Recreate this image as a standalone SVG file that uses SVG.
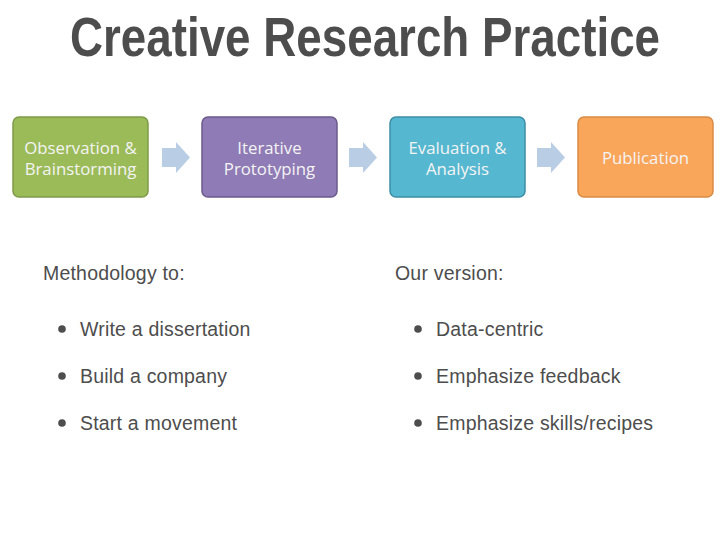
<svg xmlns="http://www.w3.org/2000/svg" width="728" height="546" viewBox="0 0 728 546">
<defs>
<style>
.title{font-family:"Liberation Sans",Arial,sans-serif;font-weight:bold;font-size:55px;fill:#4d4d4d}
.box{stroke-width:1.5}
.lbl{font-family:"Open Sans","Noto Sans",sans-serif;font-size:16.8px;fill:#f4f4f4;text-anchor:middle}
.arrow{fill:#b9cde5}
.body{font-family:"Liberation Sans",Arial,sans-serif;font-size:19.5px;fill:#4d4d4d;letter-spacing:0.2px}
.dot{fill:#4d4d4d}
</style>
</defs>
<rect width="728" height="546" fill="#ffffff"/>
<text class="title" transform="translate(70,56) scale(0.832,1)" x="0" y="0">Creative Research Practice</text>

<g id="connectors">
<path class="arrow" d="M162,148 H176 V142 L190,157.5 L176,173 V167 H162 Z"/>
<path class="arrow" d="M349,148 H363 V142 L377,157.5 L363,173 V167 H349 Z"/>
<path class="arrow" d="M537,148 H551 V142 L565,157.5 L551,173 V167 H537 Z"/>
</g>

<g id="node-observation">
<rect class="box" x="13" y="117" width="135" height="80" rx="6" fill="#9bbb59" stroke="#7f9a48"/>
<text class="lbl" x="80.5" y="154">Observation &amp;</text>
<text class="lbl" x="80.5" y="175">Brainstorming</text>
</g>
<g id="node-prototyping">
<rect class="box" x="202" y="117" width="135" height="80" rx="6" fill="#8f7bb5" stroke="#6c5a8a"/>
<text class="lbl" x="269.5" y="154">Iterative</text>
<text class="lbl" x="269.5" y="175">Prototyping</text>
</g>
<g id="node-evaluation">
<rect class="box" x="390" y="117" width="135" height="80" rx="6" fill="#55b7d0" stroke="#3c8ea6"/>
<text class="lbl" x="457.5" y="154">Evaluation &amp;</text>
<text class="lbl" x="457.5" y="175">Analysis</text>
</g>
<g id="node-publication">
<rect class="box" x="578" y="117" width="135" height="80" rx="6" fill="#f9a55a" stroke="#d98a45"/>
<text class="lbl" x="645.5" y="164">Publication</text>
</g>

<g id="left-list">
<text class="body" x="43" y="280">Methodology to:</text>
<circle class="dot" cx="62" cy="329" r="3.8"/>
<text class="body" x="80" y="336">Write a dissertation</text>
<circle class="dot" cx="62" cy="376" r="3.8"/>
<text class="body" x="80" y="383">Build a company</text>
<circle class="dot" cx="62" cy="423" r="3.8"/>
<text class="body" x="80" y="430">Start a movement</text>
</g>
<g id="right-list">
<text class="body" x="395" y="280">Our version:</text>
<circle class="dot" cx="418" cy="329" r="3.8"/>
<text class="body" x="436" y="336">Data-centric</text>
<circle class="dot" cx="418" cy="376" r="3.8"/>
<text class="body" x="436" y="383">Emphasize feedback</text>
<circle class="dot" cx="418" cy="423" r="3.8"/>
<text class="body" x="436" y="430">Emphasize skills/recipes</text>
</g>
</svg>
